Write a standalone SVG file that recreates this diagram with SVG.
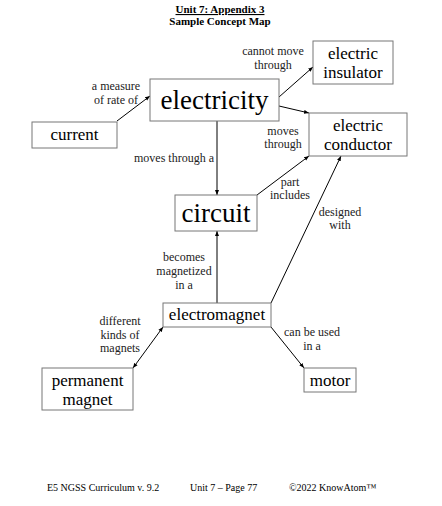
<svg xmlns="http://www.w3.org/2000/svg" width="442" height="506" viewBox="0 0 442 506">
<style>
.box{fill:#fff;stroke:#777;stroke-width:1}
.nt{font-family:"Liberation Serif",serif;font-size:17px;text-anchor:middle;fill:#000}
.big{font-size:27px}
.lb{font-family:"Liberation Serif",serif;font-size:12px;text-anchor:middle;fill:#222}
.ttl{font-family:"Liberation Serif",serif;font-size:11px;font-weight:bold;text-anchor:middle;fill:#000}
.ft{font-family:"Liberation Serif",serif;font-size:10px;fill:#000}
.ln{stroke:#000;stroke-width:1;fill:none}
</style>
<defs>
<marker id="ah" viewBox="0 0 10 10" refX="10" refY="5" markerWidth="5" markerHeight="5" orient="auto-start-reverse">
<path d="M0,1 L10,5 L0,9 z" fill="#000"/>
</marker>
</defs>
<rect width="442" height="506" fill="#fff"/>
<g id="title">
<text class="ttl" x="220" y="13" text-decoration="underline">Unit 7: Appendix 3</text>
<text class="ttl" x="220" y="25">Sample Concept Map</text>
</g>
<g id="connectors">
<line class="ln" x1="117" y1="121" x2="150" y2="96" marker-end="url(#ah)"/>
<line class="ln" x1="279" y1="97" x2="313" y2="67" marker-end="url(#ah)"/>
<line class="ln" x1="279" y1="106" x2="309" y2="113" marker-end="url(#ah)"/>
<line class="ln" x1="217" y1="121" x2="217" y2="195" marker-end="url(#ah)"/>
<line class="ln" x1="257" y1="195" x2="309" y2="156" marker-end="url(#ah)"/>
<line class="ln" x1="271" y1="303" x2="341" y2="156" marker-end="url(#ah)"/>
<line class="ln" x1="217" y1="303" x2="217" y2="231" marker-end="url(#ah)"/>
<line class="ln" x1="163" y1="327" x2="133" y2="368" marker-start="url(#ah)" marker-end="url(#ah)"/>
<line class="ln" x1="271" y1="327" x2="304" y2="368" marker-end="url(#ah)"/>
</g>
<g id="labels">
<text class="lb" x="116" y="90">a measure</text>
<text class="lb" x="116" y="104">of rate of</text>
<text class="lb" x="273" y="55">cannot move</text>
<text class="lb" x="273" y="69">through</text>
<text class="lb" x="283" y="135">moves</text>
<text class="lb" x="283" y="148">through</text>
<text class="lb" x="174" y="162">moves through a</text>
<text class="lb" x="290" y="186">part</text>
<text class="lb" x="290" y="199">includes</text>
<text class="lb" x="340" y="216">designed</text>
<text class="lb" x="340" y="229">with</text>
<text class="lb" x="184" y="261">becomes</text>
<text class="lb" x="184" y="275">magnetized</text>
<text class="lb" x="184" y="289">in a</text>
<text class="lb" x="120" y="325">different</text>
<text class="lb" x="120" y="339">kinds of</text>
<text class="lb" x="120" y="352">magnets</text>
<text class="lb" x="312" y="336">can be used</text>
<text class="lb" x="312" y="350">in a</text>
</g>
<g id="electricity"><rect class="box" x="150" y="79" width="129" height="42"/><text class="nt big" x="214.5" y="109">electricity</text></g>
<g id="current"><rect class="box" x="32" y="122" width="85" height="26"/><text class="nt" x="74.5" y="140">current</text></g>
<g id="insulator"><rect class="box" x="313" y="41" width="80" height="43"/><text class="nt" x="353" y="59">electric</text><text class="nt" x="353" y="78">insulator</text></g>
<g id="conductor"><rect class="box" x="309" y="113" width="98" height="43"/><text class="nt" x="358" y="131">electric</text><text class="nt" x="358" y="150">conductor</text></g>
<g id="circuit"><rect class="box" x="175" y="195" width="82" height="36"/><text class="nt big" x="216" y="222">circuit</text></g>
<g id="electromagnet"><rect class="box" x="163" y="303" width="108" height="24"/><text class="nt" x="217" y="320">electromagnet</text></g>
<g id="permanent-magnet"><rect class="box" x="42" y="368" width="91" height="42"/><text class="nt" x="87.5" y="386">permanent</text><text class="nt" x="87.5" y="405">magnet</text></g>
<g id="motor"><rect class="box" x="304" y="368" width="52" height="24"/><text class="nt" x="330" y="386">motor</text></g>
<g id="footer">
<text class="ft" x="47" y="491">E5 NGSS Curriculum v. 9.2</text>
<text class="ft" x="190" y="491">Unit 7 – Page 77</text>
<text class="ft" x="289" y="491">©2022 KnowAtom™</text>
</g>
</svg>
